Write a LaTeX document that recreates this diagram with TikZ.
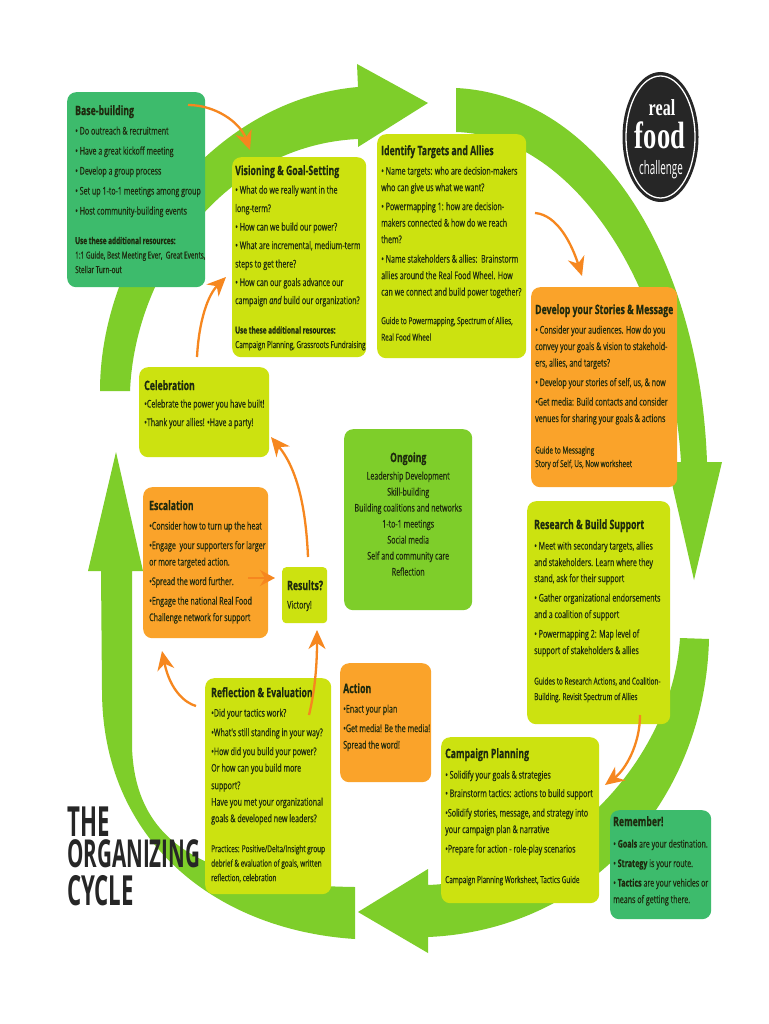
\documentclass[tikz,border=0pt]{standalone}
\usepackage{fontspec}
\usetikzlibrary{positioning,arrows.meta}
\newfontfamily\cardfamily[FakeStretch=.67,FakeBold=.5]{Open Sans}
\newfontfamily\headfamily[FakeStretch=.535]{Open Sans}
\newfontfamily\logofamily[FakeStretch=.7]{Liberation Serif}
\definecolor{cyclegreen}{HTML}{7ECE2A}
\definecolor{limefill}{HTML}{CCE210}
\definecolor{orangefill}{HTML}{FAA32A}
\definecolor{tealfill}{HTML}{3DBB6C}
\definecolor{flowcolor}{HTML}{F6871F}
\definecolor{inktext}{HTML}{1E2A0E}
\newcommand{\cardtitle}[1]{{\fontsize{13}{16}\selectfont\bfseries #1}}
\newcommand{\smallrow}{\fontsize{9.6}{14}\selectfont}
\tikzset{
  card/.style={rounded corners=9pt, anchor=north west, inner sep=0pt},
  cardtext/.style={anchor=north west, inner sep=0pt, align=left, text=inktext,
    font=\cardfamily\fontsize{10.6}{15.5}\selectfont},
  flow/.style={draw=flowcolor, line width=2.3pt,
    -{Stealth[length=19pt,width=17pt,inset=6pt]}},
  wheel/.style={fill=cyclegreen},
  logoword/.style={text=white, inner sep=0pt, anchor=base}
}
\begin{document}
\begin{tikzpicture}[x=1pt,y=-1pt]
  \useasboundingbox(0,0)rectangle(768,1024);
  \fill[white](0,0)rectangle(768,1024);
  \fill[wheel](100,391)..controls(100,250)and(210,100)..(358,87)--(357,64)--(428,103)
  --(358,147)--(358,139)..controls(225,145)and(135,270)..(130,391)--cycle;
  \fill[wheel](456,88)..controls(600,95)and(700,260)..(707,462)--(722,462)--(694,580)
  --(667,462)--(681,462)..controls(670,280)and(570,135)..(456,132)--cycle;
  \fill[wheel](709,639)..controls(705,800)and(590,930)..(428,937)--(428,953)--(358,912)
  --(428,869)--(428,885)..controls(560,880)and(672,760)..(680,638)--cycle;
  \fill[wheel](355,939)..controls(215,930)and(102,840)..(102,690)--(101,571)--(88,571)
  --(116,452)--(143,571)--(132,571)--(132,747)..controls(135,840)and(200,885)..(355,887)--cycle;

  \node[card, fill=tealfill, minimum width=138pt, minimum height=195pt](base)at(67,92){};
  \node[cardtext, below right=13pt and 8pt of base.north west](basetext){\cardtitle{Base-building}\\[4pt]
    • Do outreach \& recruitment\\[4.5pt]
    • Have a great kickoff meeting\\[4.5pt]
    • Develop a group process\\[4.5pt]
    • Set up 1-to-1 meetings among group\\[4.5pt]
    • Host community-building events\\[14pt]
    {\smallrow\bfseries Use these additional resources:}\\[-1pt]
    {\smallrow 1:1 Guide, Best Meeting Ever,\ \ Great Events,}\\[-1pt]
    {\smallrow Stellar Turn-out}};

  \node[card, fill=limefill, minimum width=134pt, minimum height=200pt](vision)at(232,157){};
  \node[cardtext, below right=8pt and 3pt of vision.north west](visiontext){\cardtitle{Visioning \& Goal-Setting}\\[3pt]
    • What do we really want in the\\[3pt]
    long-term?\\[3pt]
    • How can we build our power?\\[3pt]
    • What are incremental, medium-term\\[3pt]
    steps to get there?\\[3pt]
    • How can our goals advance our\\[2.5pt]
    campaign {\itshape and} build our organization?\\[14pt]
    {\smallrow\bfseries Use these additional resources:}\\[-1pt]
    {\smallrow Campaign Planning, Grassroots Fundraising}};

  \node[card, fill=limefill, minimum width=149pt, minimum height=224pt](identify)at(377,134){};
  \node[cardtext, below right=11pt and 4pt of identify.north west](identifytext){\cardtitle{Identify Targets and Allies}\\[4pt]
    • Name targets: who are decision-makers\\[1pt]
    who can give us what we want?\\[3.5pt]
    • Powermapping 1: how are decision-\\[1pt]
    makers connected \& how do we reach\\[1pt]
    them?\\[4pt]
    • Name stakeholders \& allies:\ \ Brainstorm\\[1pt]
    allies around the Real Food Wheel. How\\[1pt]
    can we connect and build power together?\\[13pt]
    {\smallrow Guide to Powermapping, Spectrum of Allies,}\\[1pt]
    {\smallrow Real Food Wheel}};

  \node[card, fill=orangefill, minimum width=146pt, minimum height=200pt](stories)at(531,287){};
  \node[cardtext, below right=17pt and 4pt of stories.north west](storiestext){\cardtitle{Develop your Stories \& Message}\\[4pt]
    • Consider your audiences. How do you\\[1pt]
    convey your goals \& vision to stakehold-\\[1pt]
    ers, allies, and targets?\\[4pt]
    • Develop your stories of self, us, \& now\\[4pt]
    •Get media: Build contacts and consider\\[1pt]
    venues for sharing your goals \& actions\\[16pt]
    {\smallrow Guide to Messaging}\\[-2pt]
    {\smallrow Story of Self, Us, Now worksheet}};

  \node[card, fill=limefill, minimum width=143pt, minimum height=223pt](research)at(527,501){};
  \node[cardtext, below right=18pt and 7pt of research.north west](researchtext){\cardtitle{Research \& Build Support}\\[5pt]
    • Meet with secondary targets, allies\\[1pt]
    and stakeholders. Learn where they\\[.5pt]
    stand, ask for their support\\[4pt]
    • Gather organizational endorsements\\[1pt]
    and a coalition of support\\[4pt]
    • Powermapping 2: Map level of\\[1pt]
    support of stakeholders \& allies\\[15pt]
    {\smallrow Guides to Research Actions, and Coalition-}\\[0pt]
    {\smallrow Building. Revisit Spectrum of Allies}};

  \node[card, fill=limefill, minimum width=158pt, minimum height=166pt](campaign)at(441,737){};
  \node[cardtext, below right=11pt and 4pt of campaign.north west](campaigntext){\cardtitle{Campaign Planning}\\[5pt]
    • Solidify your goals \& strategies\\[3pt]
    • Brainstorm tactics: actions to build support\\[4pt]
    •Solidify stories, message, and strategy into\\[1pt]
    your campaign plan \& narrative\\[4pt]
    •Prepare for action - role-play scenarios\\[15pt]
    {\smallrow Campaign Planning Worksheet, Tactics Guide}};

  \node[card, fill=tealfill, minimum width=101pt, minimum height=109pt](remember)at(610,810){};
  \node[cardtext, below right=6pt and 3pt of remember.north west](remembertext){\cardtitle{Remember!}\\[6pt]
    • \textbf{Goals} are your destination.\\[4pt]
    • \textbf{Strategy} is your route.\\[4pt]
    • \textbf{Tactics} are your vehicles or\\[1pt]
    means of getting there.};

  \node[card, fill=limefill, minimum width=130pt, minimum height=90pt](celebration)at(139,367){};
  \node[cardtext, below right=13pt and 5pt of celebration.north west](celebrationtext){\cardtitle{Celebration}\\[2pt]
    •Celebrate the power you have built!\\[3pt]
    •Thank your allies! •Have a party!};

  \node[card, fill=orangefill, minimum width=125pt, minimum height=151pt](escalation)at(143,487){};
  \node[cardtext, below right=13pt and 6pt of escalation.north west](escalationtext){\cardtitle{Escalation}\\[4pt]
    •Consider how to turn up the heat\\[4pt]
    •Engage\ \ your supporters for larger\\[1pt]
    or more targeted action.\\[4pt]
    •Spread the word further.\\[4pt]
    •Engage the national Real Food\\[1pt]
    Challenge network for support};

  \node[card, rounded corners=4pt, fill=limefill, minimum width=45pt, minimum height=56pt](results)at(282,567){};
  \node[cardtext, below right=13pt and 5pt of results.north west](resultstext){\cardtitle{Results?}\\[3pt]
    Victory!};

  \node[card, fill=cyclegreen, minimum width=128pt, minimum height=181pt](ongoing)at(344,429){};
  \node[cardtext, align=center, anchor=north, below=23pt of ongoing.north](ongoingtext){\cardtitle{Ongoing}\\[2pt]
    Leadership Development\\[.5pt]
    Skill-building\\[.5pt]
    Building coalitions and networks\\[.5pt]
    1-to-1 meetings\\[.5pt]
    Social media\\[.5pt]
    Self and community care\\[.5pt]
    Reflection};

  \node[card, fill=orangefill, minimum width=91pt, minimum height=119pt](action)at(340,663){};
  \node[cardtext, below right=20pt and 3pt of action.north west](actiontext){\cardtitle{Action}\\[4pt]
    •Enact your plan\\[4pt]
    •Get media! Be the media!\\[1pt]
    Spread the word!};

  \node[card, fill=limefill, minimum width=126pt, minimum height=216pt](reflection)at(205,678){};
  \node[cardtext, below right=9pt and 6pt of reflection.north west](reflectiontext){\cardtitle{Reflection \& Evaluation}\\[4pt]
    •Did your tactics work?\\[4pt]
    •What's still standing in your way?\\[3.5pt]
    •How did you build your power?\\[1pt]
    Or how can you build more\\[2pt]
    support?\\[1pt]
    Have you met your organizational\\[1pt]
    goals \& developed new leaders?\\[14.5pt]
    {\smallrow Practices: Positive/Delta/Insight group}\\[-1pt]
    {\smallrow debrief \& evaluation of goals, written}\\[-1pt]
    {\smallrow reflection, celebration}};

  \node[anchor=north west, inner sep=0pt, align=left, text=black!85,
    font=\headfamily\bfseries\fontsize{41.5}{34.5}\selectfont](cycletitle)at(67,807){THE\\[-3.5pt]
    {\fontsize{38.5}{34.5}\selectfont ORGANIZING}\\[3.5pt]
    CYCLE};

  \coordinate(baseout)at(188,105);
  \coordinate(visiontop)at(250,150);
  \coordinate(celebrationout)at(197,357);
  \coordinate(visionside)at(226,277);
  \coordinate(identifyout)at(535,213);
  \coordinate(storiestop)at(582,276);
  \coordinate(researchout)at(640,715);
  \coordinate(campaignside)at(605,785);
  \coordinate(reflectionleft)at(196,706);
  \coordinate(escalationlow)at(162,651);
  \coordinate(reflectionup)at(309,715);
  \coordinate(resultslow)at(317,630);
  \coordinate(resultsup)at(308,557);
  \coordinate(celebrationside)at(271,437);
  \coordinate(escalationout)at(248,578);
  \coordinate(resultsside)at(275,578);
  \draw[flow](baseout)..controls(215,105)and(240,122)..(visiontop);
  \draw[flow](celebrationout)..controls(199,320)and(208,295)..(visionside);
  \draw[flow](identifyout)..controls(558,215)and(572,245)..(storiestop);
  \draw[flow](researchout)..controls(640,745)and(625,770)..(campaignside);
  \draw[flow](reflectionleft)..controls(185,703)and(170,690)..(escalationlow);
  \draw[flow](reflectionup)..controls(315,690)and(317,665)..(resultslow);
  \draw[flow](resultsup)..controls(306,510)and(298,470)..(celebrationside);
  \draw[draw=flowcolor, line width=1.5pt, -{Stealth[length=15pt,width=16pt,inset=5pt]}](escalationout)--(resultsside);

  \fill[black!85](660.5,137)ellipse[x radius=38pt, y radius=65pt];
  \draw[white, line width=1.3pt](660.5,137)ellipse[x radius=34.5pt, y radius=61pt];
  \node[logoword, font=\logofamily\bfseries\fontsize{23}{23}\selectfont](logoreal)at(662,116){real};
  \node[logoword, font=\logofamily\bfseries\fontsize{38}{38}\selectfont](logofood)at(660,149){food};
  \node[logoword, font=\headfamily\fontsize{18.5}{19}\selectfont](logochallenge)at(661,175){challenge};
\end{tikzpicture}
\end{document}
